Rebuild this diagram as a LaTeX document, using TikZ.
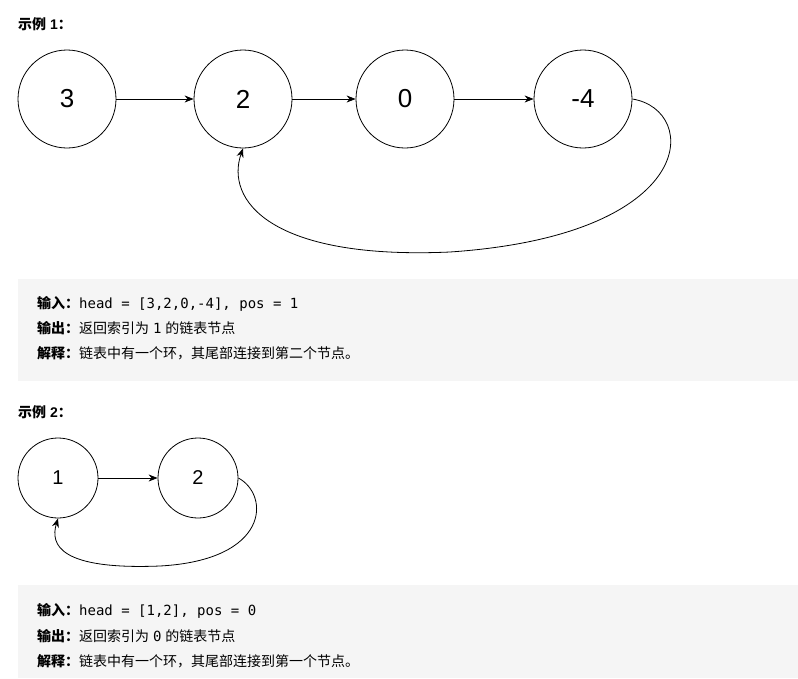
\documentclass[tikz,border=0pt]{standalone}
\usepackage{fontspec}
\setmainfont{Liberation Sans}
\newfontfamily\cjk{Noto Sans CJK SC}
\setmonofont{DejaVu Sans Mono}
\usetikzlibrary{positioning,arrows.meta}
\tikzset{
  listnode/.style={circle,draw,thick,minimum size=98pt,inner sep=0pt,font=\fontsize{26}{26}\selectfont},
  smallnode/.style={circle,draw,thick,minimum size=80pt,inner sep=0pt,font=\fontsize{20}{20}\selectfont},
  link/.style={-{Stealth[length=9pt,width=7pt]},thick},
  codebox/.style={fill=gray!8,draw=none},
  txt/.style={anchor=west,inner sep=0pt,font=\fontsize{14}{14}\selectfont}
}
\newcommand{\lbl}[1]{{\cjk\bfseries #1}}
\begin{document}
\begin{tikzpicture}[x=1pt,y=-1pt]
  \useasboundingbox (0,0) rectangle (798,678);
  % example 1
  \node[txt] (title1) at (18,24) {\lbl{示例} \textbf{1}\lbl{：}};
  \node[listnode] (a) at (67,99) {3};
  \node[listnode] (b) at (243,99) {2};
  \node[listnode] (c) at (405,99) {0};
  \node[listnode] (d) at (583,99) {-4};
  \draw[link] (a) -- (b);
  \draw[link] (b) -- (c);
  \draw[link] (c) -- (d);
  \draw[link] (d.east) .. controls (700,110) and (700,235) .. (450,252)
    .. controls (270,260) and (225,200) .. (b.south);
  \fill[codebox] (18,279) rectangle (798,381);
  \node[txt] (in1) at (37,304) {\lbl{输入：}\texttt{head = [3,2,0,-4], pos = 1}};
  \node[txt] (out1) at (37,328) {\lbl{输出：}{\cjk 返回索引为}\ \texttt{1}\ {\cjk 的链表节点}};
  \node[txt] (ex1) at (37,353) {\lbl{解释：}{\cjk 链表中有一个环，其尾部连接到第二个节点。}};
  % example 2
  \node[txt] (title2) at (18,412) {\lbl{示例} \textbf{2}\lbl{：}};
  \node[smallnode] (p) at (58,478) {1};
  \node[smallnode] (q) at (198,478) {2};
  \draw[link] (p) -- (q);
  \draw[link] (q.east) .. controls (270,495) and (270,560) .. (160,566)
    .. controls (60,570) and (50,545) .. (p.south);
  \fill[codebox] (18,585) rectangle (798,678);
  \node[txt] (in2) at (37,611) {\lbl{输入：}\texttt{head = [1,2], pos = 0}};
  \node[txt] (out2) at (37,636) {\lbl{输出：}{\cjk 返回索引为}\ \texttt{0}\ {\cjk 的链表节点}};
  \node[txt] (ex2) at (37,661) {\lbl{解释：}{\cjk 链表中有一个环，其尾部连接到第一个节点。}};
\end{tikzpicture}
\end{document}
